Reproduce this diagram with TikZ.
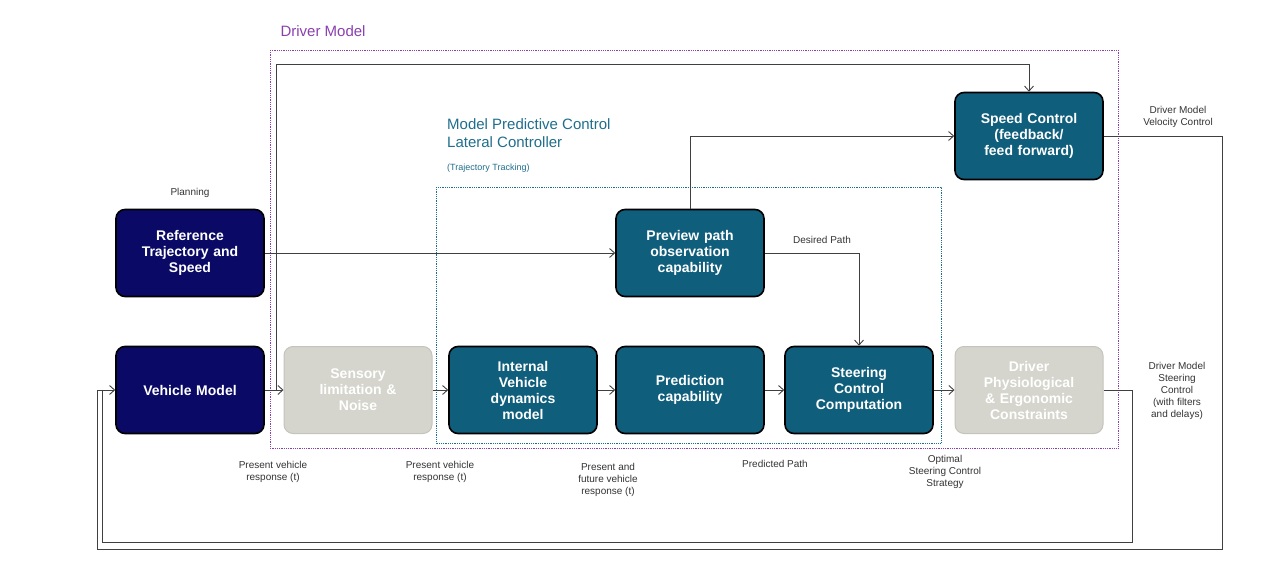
\documentclass[tikz,border=0pt]{standalone}
\usepackage{fontspec}
\setmainfont{Liberation Sans}
\usetikzlibrary{arrows.meta}
\definecolor{navy}{HTML}{0A0A66}
\definecolor{teal}{HTML}{0F5E7C}
\definecolor{grayb}{HTML}{D5D5CD}
\definecolor{purp}{HTML}{8A3FB0}
\definecolor{mpc}{HTML}{1F6E8C}
\begin{document}
\begin{tikzpicture}[x=1pt,y=-1pt,
 box/.style={draw=black,line width=1.6pt,rounded corners=9pt,minimum width=148pt,minimum height=87pt,text=white,font=\fontsize{14}{16}\selectfont\bfseries,align=center,text width=140pt},
 nb/.style={box,fill=navy},
 tb/.style={box,fill=teal},
 gb/.style={box,fill=grayb,draw=grayb!80!gray,line width=1pt},
 lbl/.style={font=\fontsize{10}{12}\selectfont,align=center,text=black!80},
 ar/.style={draw=black!75,line width=0.9pt,-{Straight Barb[length=5pt,width=9pt]}},
 ln/.style={draw=black!75,line width=0.9pt}]
\useasboundingbox (0,0) rectangle (1280,567);
\draw[purp,densely dotted,line width=0.8pt] (270,50) rectangle (1118,448);
\node[anchor=west,text=purp,font=\fontsize{15}{18}\selectfont] (dm) at (277,31) {Driver Model};
\draw[mpc,densely dotted,line width=0.8pt] (436,187) rectangle (941,443);
\node[anchor=north west,text=mpc,font=\fontsize{15}{18}\selectfont,align=left,inner sep=0] (mt) at (447,118) {Model Predictive Control\\Lateral Controller};
\node[anchor=north west,text=mpc,font=\fontsize{9}{11}\selectfont,inner sep=0] (tt) at (447,164) {(Trajectory Tracking)};

\node[nb] (ref) at (190,253) {Reference\\Trajectory and\\Speed};
\node[nb] (veh) at (190,390) {Vehicle Model};
\node[gb] (sen) at (358,390) {Sensory\\limitation \&\\Noise};
\node[tb] (ivd) at (523,390) {Internal\\Vehicle\\dynamics\\model};
\node[tb] (pre) at (690,390) {Prediction\\capability};
\node[tb] (stc) at (859,390) {Steering\\Control\\Computation};
\node[gb] (dpe) at (1029,390) {Driver\\Physiological\\\& Ergonomic\\Constraints};
\node[tb] (prv) at (690,253) {Preview path\\observation\\capability};
\node[tb] (spd) at (1029,136) {Speed Control\\(feedback/\\feed forward)};

\node[lbl] (pl) at (190,193) {Planning};
\node[lbl] (l1) at (273,472) {Present vehicle\\response (t)};
\node[lbl] (l2) at (440,472) {Present vehicle\\response (t)};
\node[lbl] (l3) at (608,480) {Present and\\future vehicle\\response (t)};
\node[lbl] (l4) at (775,464) {Predicted Path};
\node[lbl] (l5) at (945,472) {Optimal\\Steering Control\\Strategy};
\node[lbl] (l6) at (822,240) {Desired Path};
\node[lbl] (l7) at (1178,117) {Driver Model\\Velocity Control};
\node[lbl] (l8) at (1177,391) {Driver Model\\Steering\\Control\\(with filters\\and delays)};

\coordinate (t1) at (276,390);
\draw[ar] (veh) -- (sen);
\draw[ar] (sen) -- (ivd);
\draw[ar] (ivd) -- (pre);
\draw[ar] (pre) -- (stc);
\draw[ar] (stc) -- (dpe);
\draw[ar] (t1) |- (1029,64) -- (spd.north);
\draw[ar] (ref) -- (prv);
\draw[ar] (prv.north) |- (spd.west);
\draw[ar] (prv.east |- 0,253) -| (stc.north);
\draw[ln] (dpe.east) -- (1132,390) -- (1132,542) -- (102,542) -- (102,390);
\draw[ar] (spd.east) -- (1222,136) -- (1222,549) -- (97,549) -- (97,390) -- (veh.west);
\end{tikzpicture}
\end{document}
